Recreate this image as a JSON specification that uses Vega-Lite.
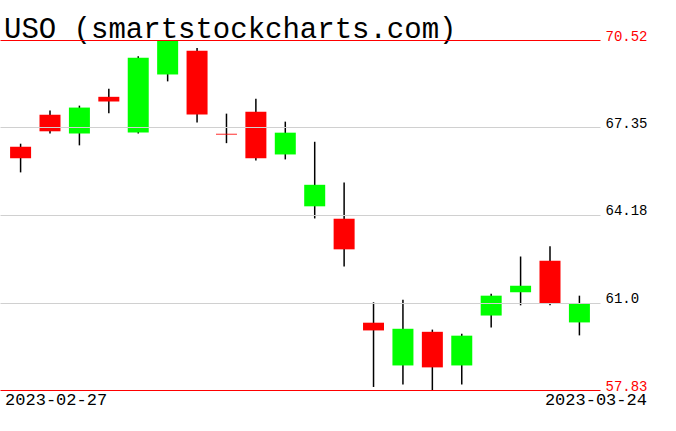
{
  "$schema": "https://vega.github.io/schema/vega-lite/v6.json",
  "autosize": "none",
  "width": 600,
  "height": 350,
  "padding": {"left": 0, "top": 40, "right": 76, "bottom": 41},
  "background": "white",
  "title": {
    "text": "USO (smartstockcharts.com)",
    "anchor": "start",
    "frame": "group",
    "orient": "top",
    "baseline": "alphabetic",
    "offset": 3,
    "dx": 4,
    "dy": 41,
    "font": "Liberation Mono",
    "fontSize": 29,
    "fontWeight": "normal",
    "color": "black"
  },
  "data": {
    "values": [
      {"date": "2023-02-27", "open": 66.65, "high": 66.76, "low": 65.72, "close": 66.23},
      {"date": "2023-02-28", "open": 67.81, "high": 67.96, "low": 67.13, "close": 67.21},
      {"date": "2023-03-01", "open": 67.13, "high": 68.14, "low": 66.70, "close": 68.07},
      {"date": "2023-03-02", "open": 68.46, "high": 68.75, "low": 67.86, "close": 68.29},
      {"date": "2023-03-03", "open": 67.17, "high": 69.93, "low": 67.13, "close": 69.88},
      {"date": "2023-03-06", "open": 69.27, "high": 70.52, "low": 69.02, "close": 70.50},
      {"date": "2023-03-07", "open": 70.13, "high": 70.23, "low": 67.53, "close": 67.82},
      {"date": "2023-03-08", "open": 67.12, "high": 67.85, "low": 66.78, "close": 67.09},
      {"date": "2023-03-09", "open": 67.92, "high": 68.39, "low": 66.15, "close": 66.23},
      {"date": "2023-03-10", "open": 66.37, "high": 67.56, "low": 66.19, "close": 67.16},
      {"date": "2023-03-13", "open": 64.49, "high": 66.83, "low": 64.05, "close": 65.27},
      {"date": "2023-03-14", "open": 64.04, "high": 65.35, "low": 62.31, "close": 62.93},
      {"date": "2023-03-15", "open": 60.27, "high": 61.01, "low": 57.94, "close": 59.99},
      {"date": "2023-03-16", "open": 58.72, "high": 61.10, "low": 58.03, "close": 60.05},
      {"date": "2023-03-17", "open": 59.94, "high": 60.02, "low": 57.83, "close": 58.65},
      {"date": "2023-03-20", "open": 58.72, "high": 59.87, "low": 58.03, "close": 59.80},
      {"date": "2023-03-21", "open": 60.53, "high": 61.32, "low": 60.10, "close": 61.25},
      {"date": "2023-03-22", "open": 61.37, "high": 62.67, "low": 60.90, "close": 61.61},
      {"date": "2023-03-23", "open": 62.52, "high": 63.04, "low": 60.90, "close": 60.97},
      {"date": "2023-03-24", "open": 60.28, "high": 61.25, "low": 59.81, "close": 60.96}
    ]
  },
  "encoding": {
    "x": {
      "field": "date",
      "type": "ordinal",
      "scale": {"type": "point", "padding": 0.7},
      "axis": {
        "title": null,
        "orient": "bottom",
        "domain": false,
        "ticks": false,
        "grid": false,
        "labelAngle": 0,
        "labelFont": "Liberation Mono",
        "labelFontSize": 17,
        "labelColor": "black",
        "labelBaseline": "top",
        "labelPadding": 1,
        "labelOverlap": false,
        "labelFlush": false,
        "labelExpr": "datum.value == '2023-02-27' || datum.value == '2023-03-24' ? datum.label : ''",
        "labelAlign": {"condition": {"test": "datum.value == '2023-02-27'", "value": "left"}, "value": "right"},
        "labelOffset": {"condition": {"test": "datum.value == '2023-02-27'", "value": -16}, "value": 67}
      }
    }
  },
  "layer": [
    {
      "mark": {"type": "rule", "color": "black", "strokeWidth": 1.5},
      "encoding": {
        "y": {"field": "low", "type": "quantitative", "title": null},
        "y2": {"field": "high"}
      }
    },
    {
      "mark": {"type": "bar", "size": 21},
      "encoding": {
        "y": {
          "field": "open",
          "type": "quantitative",
          "title": null,
          "scale": {"domain": [57.83, 70.52], "nice": false, "zero": false},
          "axis": {
            "orient": "right",
            "values": [57.83, 61.0, 64.18, 67.35, 70.52],
            "domain": false,
            "ticks": false,
            "grid": true,
            "zindex": 1,
            "gridWidth": 1,
            "gridColor": {"condition": {"test": "datum.value == 57.83 || datum.value == 70.52", "value": "#ff0000"}, "value": "#d0d0d0"},
            "labelColor": {"condition": {"test": "datum.value == 57.83 || datum.value == 70.52", "value": "#ff0000"}, "value": "black"},
            "labelFont": "Liberation Mono",
            "labelFontSize": 14,
            "labelBaseline": "alphabetic",
            "labelPadding": 5,
            "labelOverlap": false,
            "labelFlush": false,
            "labelExpr": "datum.value == 61 ? '61.0' : format(datum.value, '.2f')"
          }
        },
        "y2": {"field": "close"},
        "color": {
          "condition": {"test": "datum.close > datum.open", "value": "#00ff00"},
          "value": "#ff0000"
        }
      }
    }
  ],
  "config": {
    "view": {"stroke": null}
  }
}
